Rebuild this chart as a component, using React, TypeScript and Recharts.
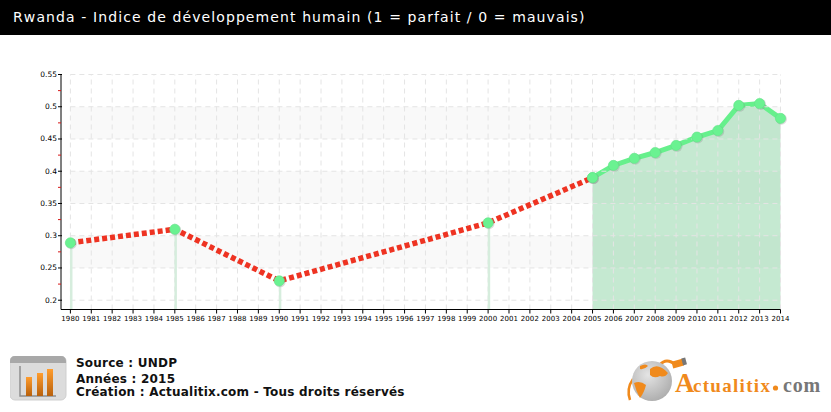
import React from "react";
import { ComposedChart, Line, Area, XAxis, YAxis, ReferenceArea, ReferenceLine } from "recharts";

const years = Array.from({ length: 35 }, (_, i) => 1980 + i);
const sparseYears = [1980, 1985, 1990, 2000, 2005];
const sparseValues = [0.289, 0.31, 0.23, 0.32, 0.39];
const denseYears = [2005, 2006, 2007, 2008, 2009, 2010, 2011, 2012, 2013, 2014];
const denseValues = [0.39, 0.409, 0.42, 0.429, 0.44, 0.453, 0.463, 0.502, 0.505, 0.482];
const dropYears = [1980, 1985, 1990, 2000];
const dropValues = [0.289, 0.31, 0.23, 0.32];
const majorTicks = [0.2, 0.25, 0.3, 0.35, 0.4, 0.45, 0.5, 0.55];
const allYTicks = [0.2, 0.225, 0.25, 0.275, 0.3, 0.325, 0.35, 0.375, 0.4, 0.425, 0.45, 0.475, 0.5, 0.525, 0.55];
const bands: [number, number][] = [[0.25, 0.3], [0.35, 0.4], [0.45, 0.5]];
const Y_MIN = 0.1856;
const Y_MAX = 0.55;

const data = years.map((year) => {
  const s = sparseYears.indexOf(year);
  const d = denseYears.indexOf(year);
  return { year, red: s >= 0 ? sparseValues[s] : null, green: d >= 0 ? denseValues[d] : null };
});

const tickFont = "'DejaVu Sans', sans-serif";

const YTick = (p: any) => {
  const v = p.payload.value;
  const major = majorTicks.some((m) => Math.abs(m - v) < 1e-6);
  return (
    <g>
      <line x1={p.x + 5} x2={major ? p.x + 9 : p.x + 8} y1={p.y} y2={p.y} stroke={major ? "#000" : "#d81818"} strokeWidth={1} />
      {major && (
        <text x={p.x + 4} y={p.y + 2.5} textAnchor="end" fontSize={7.5} fontFamily={tickFont} fill="#000">
          {String(v)}
        </text>
      )}
    </g>
  );
};

const XTick = (p: any) => (
  <g>
    <line x1={p.x} x2={p.x} y1={p.y - 8} y2={p.y - 4} stroke="#000" strokeWidth={1} />
    <text x={p.x} y={p.y + 3.5} textAnchor="middle" fontSize={7} letterSpacing={0.1} fontFamily={tickFont} fill="#000">
      {p.payload.value}
    </text>
  </g>
);

const Dot = (p: any) => {
  if (p.value == null || p.cy == null) return <g key={p.key} />;
  return (
    <g key={p.key}>
      <circle cx={p.cx + 0.8} cy={p.cy + 0.8} r={5.6} fill="#888" fillOpacity={0.3} />
      <circle cx={p.cx} cy={p.cy} r={5.1} fill="#6af291" stroke="#62e488" strokeWidth={0.6} />
    </g>
  );
};

const Icon = () => (
  <svg width={58} height={46} style={{ position: "absolute", left: 10, top: 356 }}>
    <rect x={0} y={0} width={56} height={44} rx={5} fill="#dcdcdc" stroke="#cfcfcf" />
    <path d="M0 5 a5 5 0 0 1 5 -5 h46 a5 5 0 0 1 5 5 v2 h-56 z" fill="#a8a8a8" />
    <path d="M10 10 V40 H46" fill="none" stroke="#8f8f8f" strokeWidth={1.5} />
    <defs>
      <linearGradient id="barG" x1="0" y1="0" x2="0" y2="1">
        <stop offset="0" stopColor="#ff9d2e" />
        <stop offset="1" stopColor="#b8600c" />
      </linearGradient>
    </defs>
    <rect x={16} y={21} width={6} height={19} fill="url(#barG)" />
    <rect x={27} y={17} width={6} height={23} fill="url(#barG)" />
    <rect x={37} y={13} width={6} height={27} fill="url(#barG)" />
  </svg>
);

const Logo = () => (
  <svg width={221} height={67} style={{ position: "absolute", left: 610, top: 345 }}>
    <defs>
      <radialGradient id="globeG" cx="0.4" cy="0.35" r="0.75">
        <stop offset="0" stopColor="#e4e4e4" />
        <stop offset="1" stopColor="#a8a8a8" />
      </radialGradient>
    </defs>
    <path d="M20 55 Q16 44 23 34" fill="none" stroke="#f08a1c" strokeWidth={2.5} />
    <path d="M50 20 Q56 12 66 20" fill="none" stroke="#f08a1c" strokeWidth={3} />
    <rect x={62} y={15} width={11} height={7} fill="#f08a1c" transform="rotate(-15 68 18)" />
    <rect x={72} y={13} width={4} height={7} fill="#777" transform="rotate(-15 74 16)" />
    <circle cx={42} cy={36} r={20} fill="url(#globeG)" />
    <path d="M24 38 Q30 35 36 40 Q34 48 30 53 Q26 46 24 38 Z" fill="#f08a1c" />
    <path d="M40 24 Q48 17 58 28 Q55 33 50 31 Q44 34 40 30 Z" fill="#f08a1c" />
    <path d="M30 21 Q36 18 38 21 Q34 25 30 24 Z" fill="#f08a1c" />
    <text x={65} y={47} fontFamily="'Liberation Serif', serif" fontWeight={700} fontSize={27} fill="#f08a1c">A</text>
    <text x={83} y={47} fontFamily="'Liberation Serif', serif" fontWeight={700} fontSize={19} letterSpacing={1.3} fill="#f08a1c">ctualitix</text>
    <circle cx={165.5} cy={43} r={2.6} fill="#f08a1c" />
    <text x={173} y={47} fontFamily="'Liberation Serif', serif" fontWeight={700} fontSize={20} letterSpacing={0.8} fill="#777">com</text>
  </svg>
);

const footerLine = (top: number, text: string) => (
  <div style={{ position: "absolute", left: 76, top, fontFamily: "'DejaVu Sans', sans-serif", fontWeight: 700, fontSize: 12, lineHeight: "14px", letterSpacing: 0.22, color: "#111", whiteSpace: "nowrap" }}>
    {text}
  </div>
);

export default function App() {
  return (
    <div style={{ position: "absolute", left: 0, top: 0, width: 831, height: 412, background: "#fff", overflow: "hidden" }}>
      <div style={{ position: "absolute", left: 0, top: 0, width: 831, height: 35, background: "#000" }} />
      <div style={{ position: "absolute", left: 13, top: 9, fontFamily: "'DejaVu Sans', sans-serif", fontSize: 14, lineHeight: "17px", letterSpacing: 1.1, color: "#fff", whiteSpace: "nowrap" }}>
        Rwanda - Indice de développement humain (1 = parfait / 0 = mauvais)
      </div>
      <div style={{ position: "absolute", left: 0, top: 0 }}>
        <ComposedChart width={831} height={412} data={data} margin={{ top: 74.5, right: 50.5, bottom: 72, left: 0 }}>
          <XAxis
            dataKey="year"
            type="number"
            domain={[1979.55, 2014]}
            ticks={years}
            interval={0}
            height={30.5}
            axisLine={{ stroke: "#000", strokeWidth: 1 }}
            tickLine={false}
            tick={<XTick />}
          />
          <YAxis
            type="number"
            domain={[Y_MIN, Y_MAX]}
            ticks={allYTicks}
            interval={0}
            width={61}
            axisLine={{ stroke: "#000", strokeWidth: 1 }}
            tickLine={false}
            tick={<YTick />}
          />
          {bands.map(([a, b]) => (
            <ReferenceArea key={a} x1={1980} x2={2014} y1={a} y2={b} fill="#f9f9f9" fillOpacity={1} stroke="none" />
          ))}
          {years.map((y) => (
            <ReferenceLine key={y} segment={[{ x: y, y: Y_MIN }, { x: y, y: Y_MAX }]} stroke="#e4e4e4" strokeDasharray="5 4" />
          ))}
          {majorTicks.map((v) => (
            <ReferenceLine key={v} segment={[{ x: 1980, y: v }, { x: 2014, y: v }]} stroke="#e4e4e4" strokeDasharray="5 4" />
          ))}
          {dropYears.map((y, i) => (
            <ReferenceLine key={y} segment={[{ x: y + 0.04, y: Y_MIN }, { x: y + 0.04, y: dropValues[i] }]} stroke="#d6eddd" strokeWidth={2.5} />
          ))}
          <Area
            dataKey="green"
            type="linear"
            stroke="#66f08c"
            strokeWidth={5}
            fill="#7fcf98"
            fillOpacity={0.45}
            dot={<Dot />}
            isAnimationActive={false}
          />
          <Line
            dataKey="red"
            type="linear"
            connectNulls
            stroke="#ee3322"
            strokeWidth={5.5}
            strokeDasharray="5 3"
            dot={<Dot />}
            activeDot={false}
            isAnimationActive={false}
          />
        </ComposedChart>
      </div>
      <Icon />
      {footerLine(356, "Source : UNDP")}
      {footerLine(372, "Années : 2015")}
      {footerLine(385, "Création : Actualitix.com - Tous droits réservés")}
      <Logo />
    </div>
  );
}
